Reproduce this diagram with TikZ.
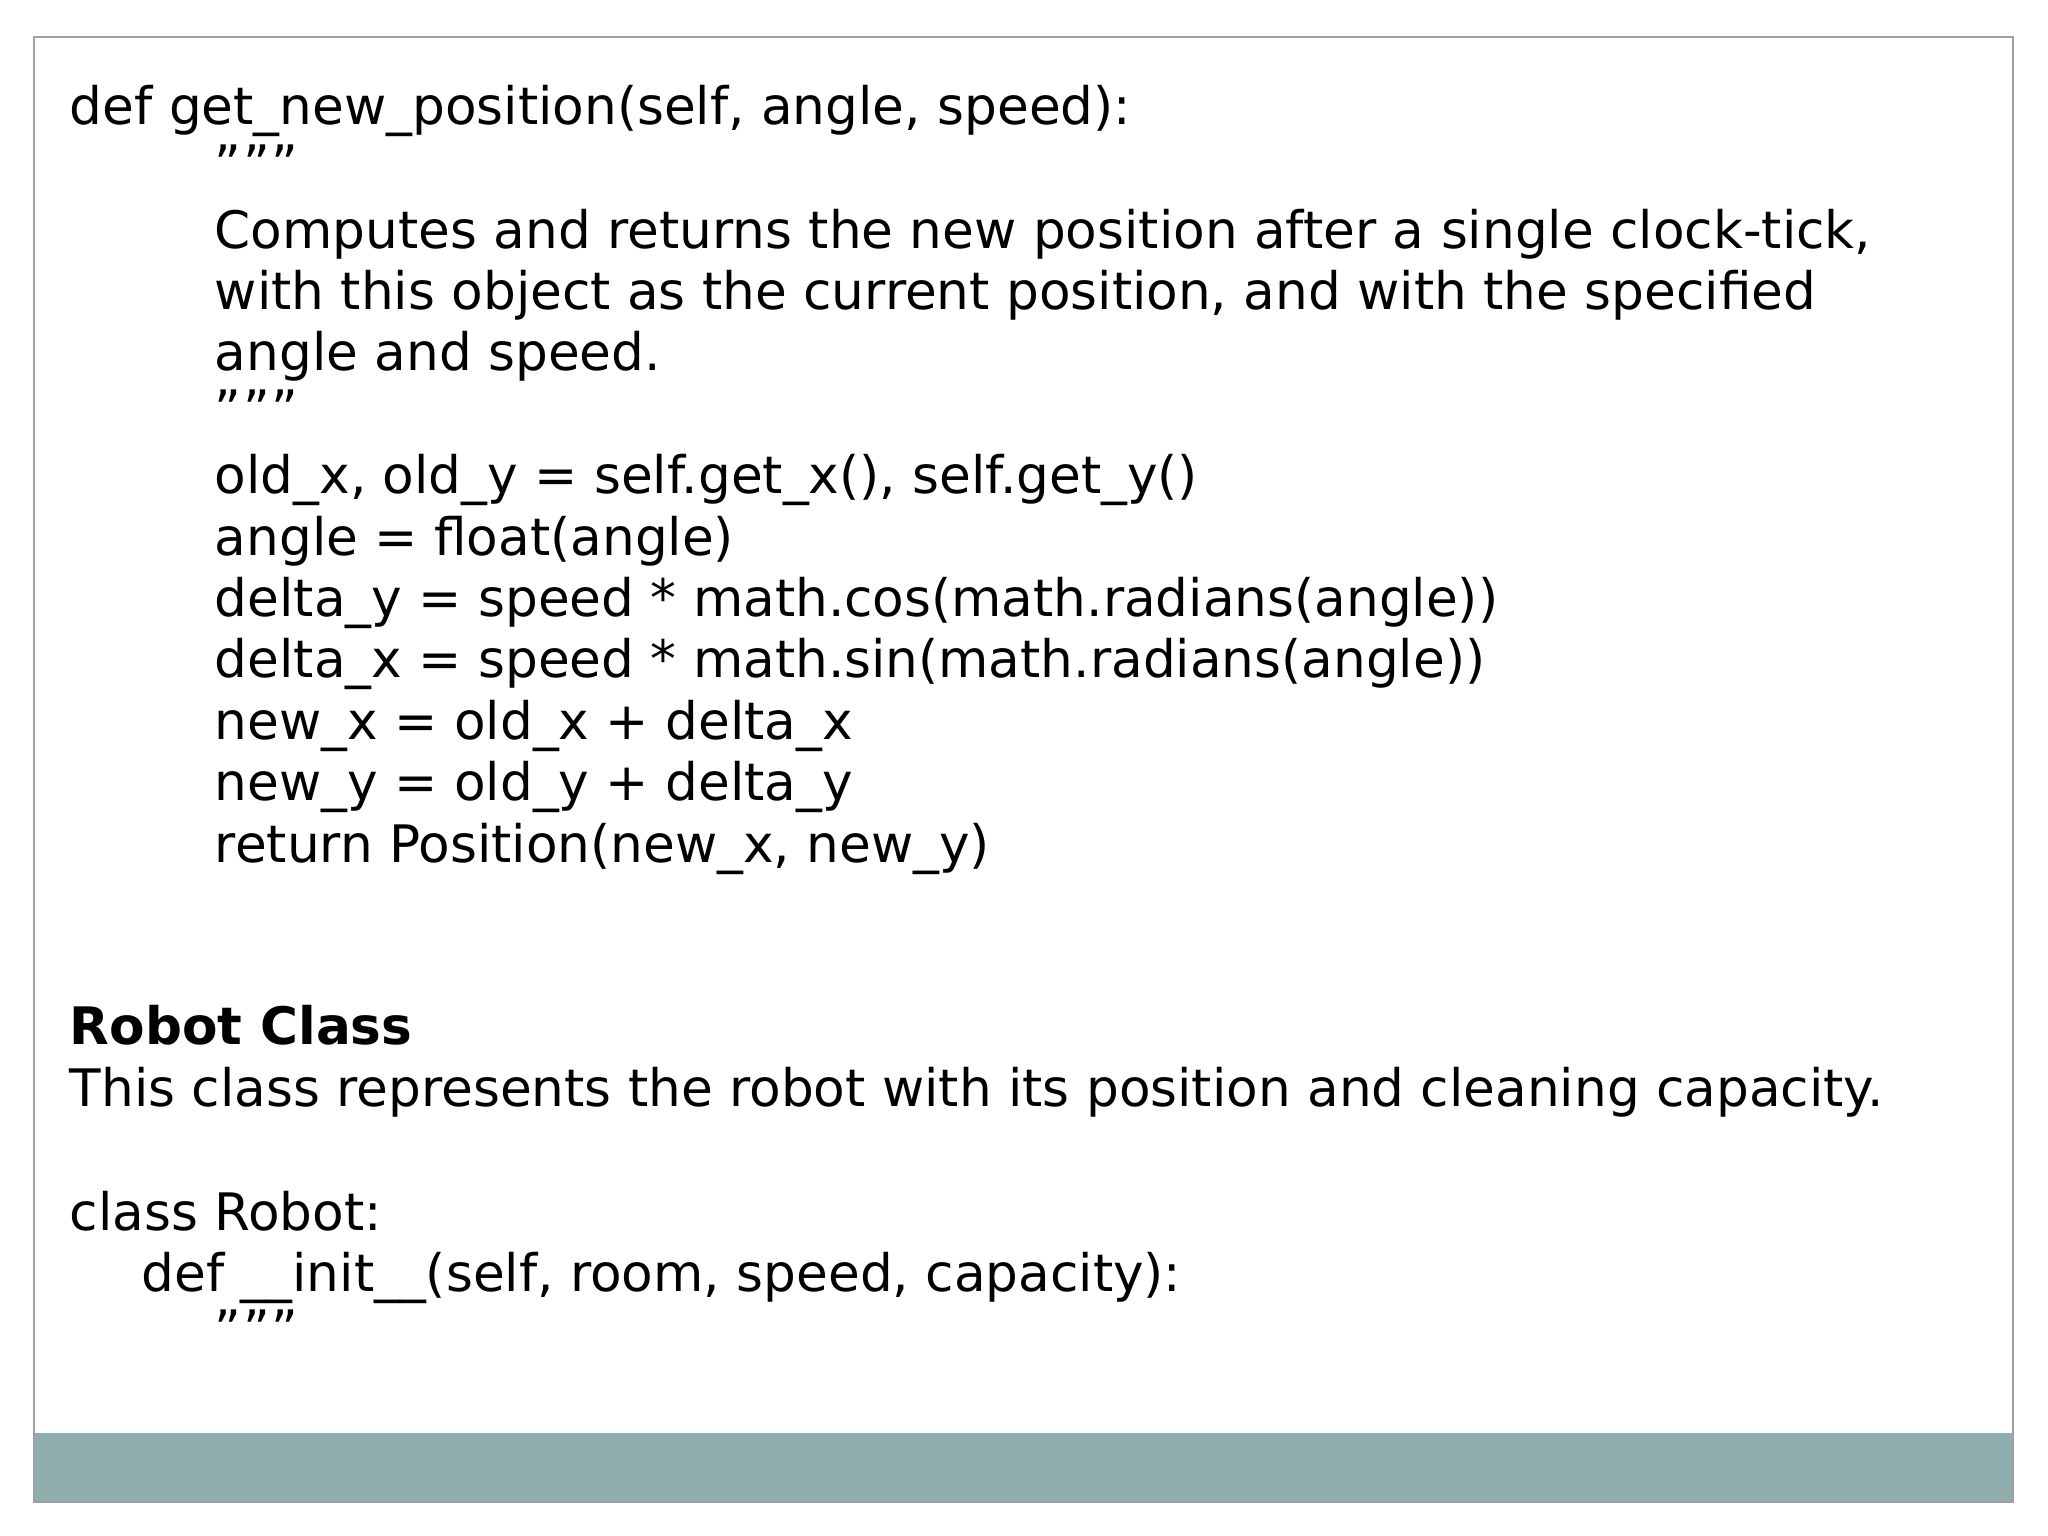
\documentclass[tikz,border=0pt]{standalone}
\usepackage{fontspec}
\setmainfont{DejaVu Sans}
\definecolor{band}{HTML}{8FADAD}
\definecolor{frame}{HTML}{A0A0A0}
\begin{document}
\begin{tikzpicture}[x=0.013061cm,y=-0.013061cm,
  ln/.style={anchor=base west,inner sep=0pt,font=\fontsize{14.7}{17}\selectfont}]
\useasboundingbox (0,0) rectangle (1568,1176);
\fill[white] (0,0) rectangle (1568,1176);
\fill[band] (26,1097) rectangle (1541,1150);
\draw[frame,line width=0.6pt] (26,28) rectangle (1541,1150);
\def\q{\char34\kern0.5pt\char34\kern0.5pt\char34}
\node[ln] (l1) at (53,95) {def get\_new\_position(self, angle, speed):};
\node[ln] (l2) at (164,140) {\q};
\node[ln] (l3) at (164,190) {Computes and returns the new position after a single clock-tick,};
\node[ln] (l4) at (164,237) {with this object as the current position, and with the specified};
\node[ln] (l5) at (164,284) {angle and speed.};
\node[ln] (l6) at (164,327) {\q};
\node[ln] (l7) at (164,378) {old\_x, old\_y = self.get\_x(), self.get\_y()};
\node[ln] (l8) at (164,425) {angle = float(angle)};
\node[ln] (l9) at (164,472) {delta\_y = speed * math.cos(math.radians(angle))};
\node[ln] (l10) at (164,519) {delta\_x = speed * math.sin(math.radians(angle))};
\node[ln] (l11) at (164,566) {new\_x = old\_x + delta\_x};
\node[ln] (l12) at (164,613) {new\_y = old\_y + delta\_y};
\node[ln] (l13) at (164,660) {return Position(new\_x, new\_y)};
\node[ln,font=\fontsize{14.7}{17}\selectfont\bfseries] (l14) at (53,800) {Robot Class};
\node[ln] (l15) at (53,847) {This class represents the robot with its position and cleaning capacity.};
\node[ln] (l16) at (53,942) {class Robot:};
\node[ln] (l17) at (108,989) {def \_\_init\_\_(self, room, speed, capacity):};
\node[ln] (l18) at (164,1032) {\q};
\end{tikzpicture}
\end{document}
